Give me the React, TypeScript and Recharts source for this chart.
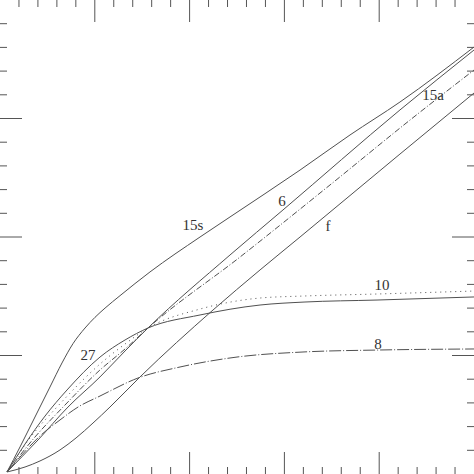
import React from 'react';
import { LineChart, Line, XAxis, YAxis, ReferenceDot } from 'recharts';

// Tick positions (data units); majors are integers
const xTicks = [0.2, 0.4, 0.6, 0.8, 1, 1.2, 1.4, 1.6, 1.8, 2, 2.2, 2.4, 2.6, 2.8, 3, 3.2, 3.4, 3.6, 3.8, 4, 4.2, 4.4, 4.6, 4.8];
const yTicks = [0.2, 0.4, 0.6, 0.8, 1, 1.2, 1.4, 1.6, 1.8, 2, 2.2, 2.4, 2.6, 2.8, 3, 3.2, 3.4, 3.6, 3.8];

// Series
const s15s = [
  { x: 0.074, y: 0.017 }, { x: 0.211, y: 0.228 }, { x: 0.369, y: 0.481 }, { x: 0.527, y: 0.734 },
  { x: 0.654, y: 0.937 }, { x: 0.77, y: 1.1 }, { x: 0.897, y: 1.232 }, { x: 1.002, y: 1.322 },
  { x: 1.108, y: 1.4 }, { x: 1.266, y: 1.505 }, { x: 1.582, y: 1.705 }, { x: 2.11, y: 2.0 },
  { x: 2.426, y: 2.169 }, { x: 3.165, y: 2.565 }, { x: 3.692, y: 2.861 }, { x: 4.219, y: 3.139 },
  { x: 5.0, y: 3.603 },
];
const s27 = [
  { x: 0.074, y: 0.017 }, { x: 0.264, y: 0.253 }, { x: 0.475, y: 0.489 }, { x: 0.707, y: 0.709 },
  { x: 1.055, y: 0.987 }, { x: 1.319, y: 1.131 }, { x: 1.561, y: 1.232 }, { x: 2.11, y: 1.342 },
  { x: 2.743, y: 1.426 }, { x: 3.207, y: 1.451 }, { x: 3.977, y: 1.468 }, { x: 5.0, y: 1.494 },
];
const s10 = [
  { x: 0.074, y: 0.017 }, { x: 0.316, y: 0.304 }, { x: 0.601, y: 0.565 }, { x: 1.055, y: 0.928 },
  { x: 1.319, y: 1.097 }, { x: 1.561, y: 1.232 }, { x: 2.11, y: 1.392 }, { x: 2.743, y: 1.485 },
  { x: 3.207, y: 1.502 }, { x: 3.977, y: 1.519 }, { x: 5.0, y: 1.544 },
];
const s15a = [
  { x: 0.074, y: 0.017 }, { x: 0.369, y: 0.312 }, { x: 0.665, y: 0.565 }, { x: 1.055, y: 0.878 },
  { x: 1.319, y: 1.055 }, { x: 1.561, y: 1.232 }, { x: 2.532, y: 1.831 }, { x: 3.481, y: 2.439 },
  { x: 4.325, y: 2.987 }, { x: 5.0, y: 3.409 },
];
const s6 = [
  { x: 0.074, y: 0.017 }, { x: 0.401, y: 0.287 }, { x: 0.717, y: 0.565 }, { x: 1.055, y: 0.819 },
  { x: 1.319, y: 1.038 }, { x: 1.561, y: 1.232 }, { x: 2.426, y: 1.848 }, { x: 2.985, y: 2.228 },
  { x: 4.219, y: 3.072 }, { x: 5.0, y: 3.578 },
];
const s8 = [
  { x: 0.074, y: 0.017 }, { x: 0.211, y: 0.143 }, { x: 0.422, y: 0.321 }, { x: 0.633, y: 0.456 },
  { x: 0.823, y: 0.565 }, { x: 1.055, y: 0.658 }, { x: 1.456, y: 0.81 }, { x: 1.899, y: 0.903 },
  { x: 2.5, y: 0.987 }, { x: 3.207, y: 1.03 }, { x: 3.977, y: 1.046 }, { x: 5.0, y: 1.055 },
];
const sf = [
  { x: 0.074, y: 0.017 }, { x: 0.264, y: 0.059 }, { x: 0.422, y: 0.11 }, { x: 0.633, y: 0.203 },
  { x: 0.802, y: 0.304 }, { x: 0.981, y: 0.43 }, { x: 1.16, y: 0.565 }, { x: 1.477, y: 0.819 },
  { x: 2.247, y: 1.384 }, { x: 2.743, y: 1.722 }, { x: 3.165, y: 2.0 }, { x: 4.219, y: 2.7 },
  { x: 5.0, y: 3.215 },
];

// Curve labels
const labels = [
  { text: '15s', x: 2.036, y: 2.101 },
  { text: '6', x: 2.975, y: 2.304 },
  { text: 'f', x: 3.46, y: 2.093 },
  { text: '15a', x: 4.568, y: 3.198 },
  { text: '10', x: 4.03, y: 1.595 },
  { text: '8', x: 3.987, y: 1.097 },
  { text: '27', x: 0.928, y: 1.004 },
];

const LINE = '#505050';
const TICK = '#555';
const isMajor = (v: number) => Math.abs(v - Math.round(v)) < 1e-6;
const len = (v: number) => (isMajor(v) ? 22 : 7);
const val = (p: any) => (p && p.payload ? p.payload.value : 0);

const BottomTick = (p: any) => (
  <line x1={p.x} x2={p.x} y1={474} y2={474 - len(val(p))} stroke={TICK} strokeWidth={1} />
);
const TopTick = (p: any) => (
  <line x1={p.x} x2={p.x} y1={0} y2={len(val(p))} stroke={TICK} strokeWidth={1} />
);
const LeftTick = (p: any) => (
  <line x1={0} x2={len(val(p))} y1={p.y} y2={p.y} stroke={TICK} strokeWidth={1} />
);
const RightTick = (p: any) => (
  <line x1={474} x2={474 - len(val(p))} y1={p.y} y2={p.y} stroke={TICK} strokeWidth={1} />
);

export default function App() {
  const common = {
    isAnimationActive: false,
    dot: false,
    activeDot: false,
    type: 'monotone' as const,
    dataKey: 'y',
    xAxisId: 'b',
    yAxisId: 'l',
    stroke: LINE,
    strokeWidth: 1,
  };
  return (
    <div style={{ position: 'absolute', left: 0, top: 0, width: 474, height: 474, overflow: 'hidden', background: '#fff' }}>
      <LineChart width={474} height={474} margin={{ top: -10, right: -10, bottom: -10, left: -10 }}>
        <XAxis xAxisId="b" type="number" dataKey="x" domain={[0, 5]} allowDataOverflow ticks={xTicks} interval={0}
          height={10} tickSize={0} tickMargin={0} axisLine={false} tickLine={false} tick={BottomTick} />
        <XAxis xAxisId="t" orientation="top" type="number" dataKey="x" domain={[0, 5]} allowDataOverflow ticks={xTicks} interval={0}
          height={10} tickSize={0} tickMargin={0} axisLine={false} tickLine={false} tick={TopTick} />
        <YAxis yAxisId="l" type="number" domain={[0, 4]} allowDataOverflow ticks={yTicks} interval={0}
          width={10} tickSize={0} tickMargin={0} axisLine={false} tickLine={false} tick={LeftTick} />
        <YAxis yAxisId="r" orientation="right" type="number" domain={[0, 4]} allowDataOverflow ticks={yTicks} interval={0}
          width={10} tickSize={0} tickMargin={0} axisLine={false} tickLine={false} tick={RightTick} />
        <Line {...common} data={s15s} />
        <Line {...common} data={s27} />
        <Line {...common} data={s10} strokeDasharray="1 4" />
        <Line {...common} data={s15a} strokeDasharray="6 2 1 2" />
        <Line {...common} data={s6} />
        <Line {...common} data={s8} strokeDasharray="12 2 1 2" />
        <Line {...common} data={sf} />
        {labels.map((l) => (
          <ReferenceDot key={l.text} xAxisId="b" yAxisId="l" x={l.x} y={l.y} r={0} fill="none" stroke="none"
            label={{ value: l.text, position: 'center', fill: '#333', fontSize: 15, fontFamily: 'Liberation Serif' }} />
        ))}
      </LineChart>
    </div>
  );
}
